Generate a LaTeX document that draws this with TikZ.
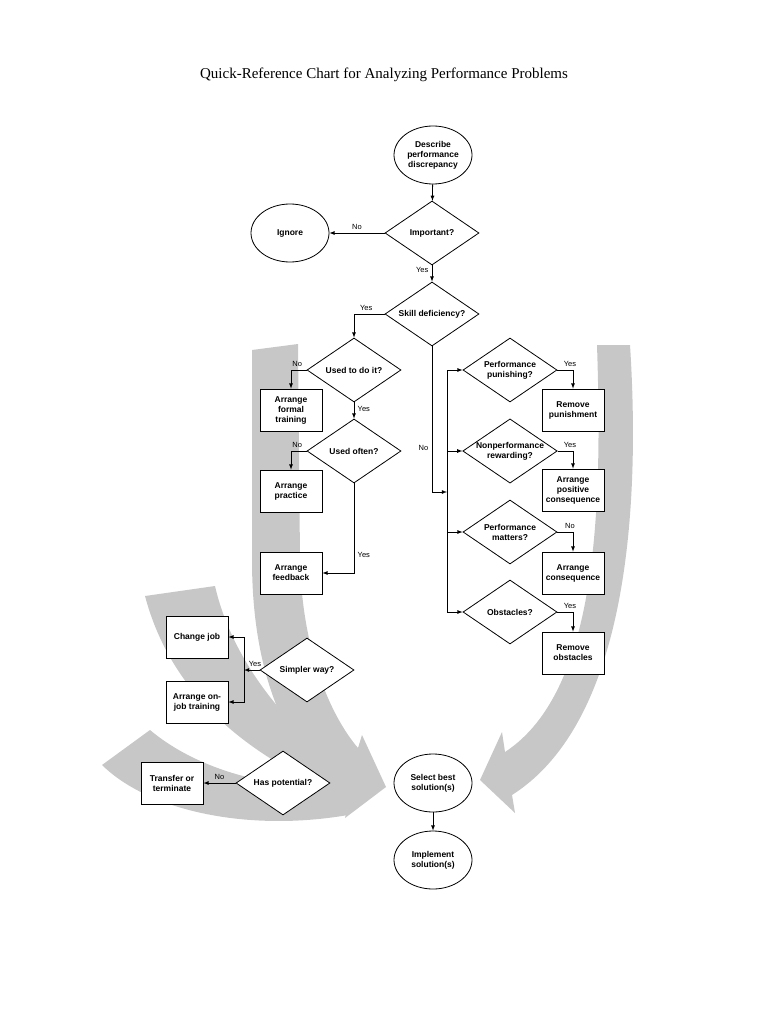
\documentclass[tikz,border=0pt]{standalone}
\usepackage{fontspec}
\setmainfont{Liberation Serif}
\newfontfamily\chartfont{Liberation Sans}
\usetikzlibrary{shapes,arrows,positioning}
\tikzstyle{term} = [draw,thick,fill=white,ellipse,inner sep=0,minimum width=78pt,minimum height=58pt,align=center,font=\chartfont\bfseries\fontsize{8.5}{10}\selectfont]
\tikzstyle{ask} = [draw,thick,fill=white,diamond,inner sep=0,minimum width=94pt,minimum height=64pt,aspect=1.47,align=center,font=\chartfont\bfseries\fontsize{8.5}{10}\selectfont]
\tikzstyle{act} = [draw,thick,fill=white,rectangle,inner sep=0,minimum width=62pt,minimum height=42pt,align=center,font=\chartfont\bfseries\fontsize{8.5}{10}\selectfont]
\tikzstyle{link} = [-latex,thick]
\tikzstyle{tag} = [font=\chartfont\fontsize{7.5}{9}\selectfont]
\tikzstyle{band} = [fill=black!22,draw=none]
\begin{document}
\begin{tikzpicture}[x=1pt,y=-1pt]
      \useasboundingbox (0,0) rectangle (768,1024);
      % grey guide arrows
      \fill[band] (252,350) -- (298,344) -- (300,560) .. controls (302,650) and (330,715) .. (358,748) -- (362,735) -- (386,787) -- (345,818) -- (349,800) .. controls (290,760) and (252,680) .. (252,560) -- cycle;
      \fill[band] (145,596) -- (215,586) .. controls (232,660) and (285,725) .. (345,770) -- (330,790) .. controls (240,750) and (170,690) .. (145,596) -- cycle;
      \fill[band] (102,765) -- (150,730) .. controls (200,772) and (280,792) .. (350,785) -- (348,815) .. controls (250,832) and (150,812) .. (102,765) -- cycle;
      \fill[band] (597,345) -- (630,345) .. controls (640,500) and (630,720) .. (512,795) -- (515,813) -- (480,780) -- (502,732) -- (505,752) .. controls (600,690) and (602,500) .. (597,345) -- cycle;
      \node[font=\fontsize{15}{18}\selectfont] (title) at (384,75) {Quick-Reference Chart for Analyzing Performance Problems};
      \node[term] (describe) at (433,155) {Describe\\performance\\discrepancy};
      \node[ask] (important) at (432,233) {Important?};
      \node[term] (ignore) at (290,233) {Ignore};
      \node[ask] (skill) at (432,314) {Skill deficiency?};
      \node[ask] (usedto) at (354,370) {Used to do it?};
      \node[act] (formal) at (291,410) {Arrange\\formal\\training};
      \node[ask] (often) at (354,451) {Used often?};
      \node[act] (practice) at (291,491) {Arrange\\practice};
      \node[act] (feedback) at (291,573) {Arrange\\feedback};
      \node[ask] (punish) at (510,370) {Performance\\punishing?};
      \node[ask] (reward) at (510,451) {Nonperformance\\rewarding?};
      \node[ask] (matters) at (510,532) {Performance\\matters?};
      \node[ask] (obstacle) at (510,612) {Obstacles?};
      \node[act] (rempun) at (573,410) {Remove\\punishment};
      \node[act] (positive) at (573,490) {Arrange\\positive\\consequence};
      \node[act] (conseq) at (573,573) {Arrange\\consequence};
      \node[act] (remobs) at (573,653) {Remove\\obstacles};
      \node[act] (change) at (197,637) {Change job};
      \node[act] (onjob) at (197,702) {Arrange on-\\job training};
      \node[ask] (simpler) at (307,670) {Simpler way?};
      \node[ask] (potential) at (283,783) {Has potential?};
      \node[act] (transfer) at (172,783) {Transfer or\\terminate};
      \node[term] (select) at (433,783) {Select best\\solution(s)};
      \node[term] (implement) at (433,860) {Implement\\solution(s)};
      \coordinate (bus) at (447,492);
      \coordinate (fork) at (244,670);
      % connectors
      \draw[link] (describe) -- (important);
      \draw[link] (important) -- node[tag,above]{No} (ignore);
      \draw[link] (important) -- node[tag,left,pos=0.3]{Yes} (skill);
      \draw[link] (skill.west) -| node[tag,above,pos=0.3]{Yes} (usedto.north);
      \draw[link] (usedto.west) -| node[tag,above,pos=0.3]{No} (formal.north);
      \draw[link] (usedto) -- node[tag,right,pos=0.4]{Yes} (often);
      \draw[link] (often.west) -| node[tag,above,pos=0.3]{No} (practice.north);
      \draw[link] (often.south) |- node[tag,right,pos=0.4]{Yes} (feedback.east);
      \draw[link] (skill.south) |- node[tag,left,pos=0.35]{No} (bus);
      \draw[thick] (bus |- punish) -- (bus |- obstacle);
      \foreach \q in {punish,reward,matters,obstacle}
        \draw[link] (bus |- \q) -- (\q.west);
      \draw[link] (punish.east) -| node[tag,above,pos=0.4]{Yes} (rempun.north);
      \draw[link] (reward.east) -| node[tag,above,pos=0.4]{Yes} (positive.north);
      \draw[link] (matters.east) -| node[tag,above,pos=0.4]{No} (conseq.north);
      \draw[link] (obstacle.east) -| node[tag,above,pos=0.4]{Yes} (remobs.north);
      \draw[link] (simpler.west) -- node[tag,above,pos=0.3]{Yes} (fork);
      \draw[link] (fork) |- (change.east);
      \draw[link] (fork) |- (onjob.east);
      \draw[link] (potential) -- node[tag,above]{No} (transfer);
      \draw[link] (select) -- (implement);
    \end{tikzpicture}
\end{document}
